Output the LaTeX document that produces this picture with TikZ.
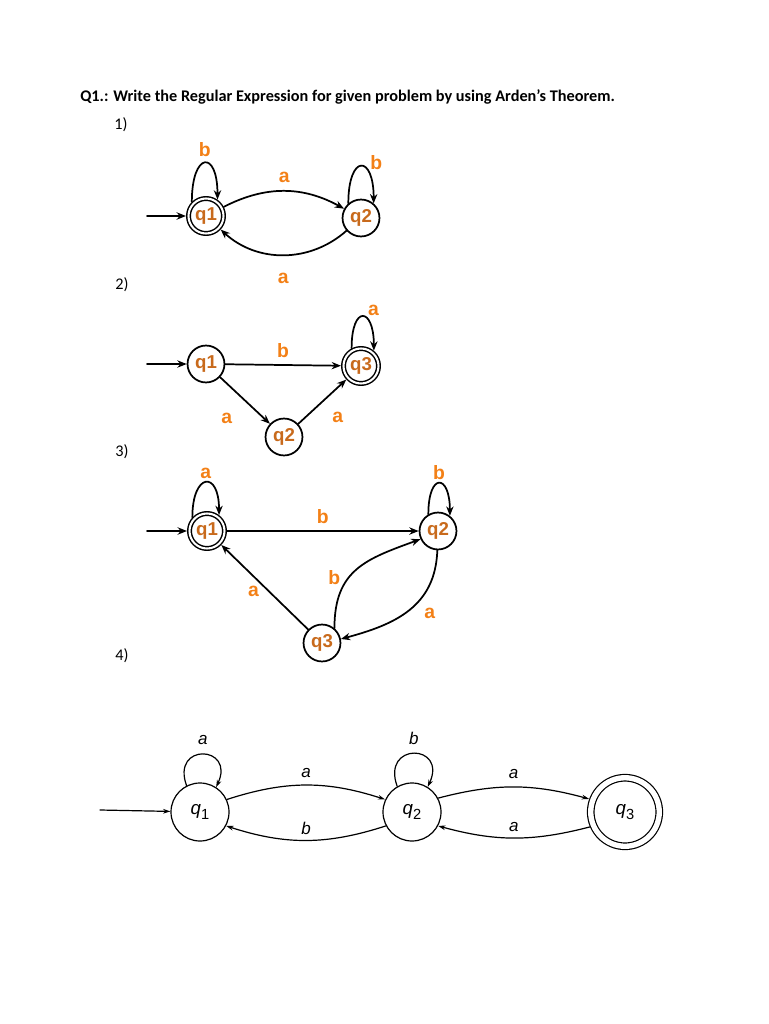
\documentclass[tikz,border=0pt]{standalone}
\usepackage{fontspec}
\setmainfont{Carlito}
\newfontfamily\arialfont{Liberation Sans}
\usetikzlibrary{arrows.meta}
\definecolor{lblorange}{RGB}{243,128,22}
\definecolor{qorange}{RGB}{200,106,28}
\newcommand{\qsub}[1]{\textit{q}\raisebox{-0.5ex}{\fontsize{11}{11}\selectfont #1}}
\begin{document}
\begin{tikzpicture}[x=0.75pt,y=0.75pt,>={Stealth[length=7pt,width=5.5pt]},line join=round,line cap=round,
	st/.style={circle,draw,line width=1.3pt,minimum size=27.7pt,inner sep=0pt,text=qorange,font=\arialfont\bfseries\fontsize{14}{14}\selectfont},
	acc/.style={st,double,line width=1.1pt,double distance=1.55pt,minimum size=26.25pt,outer sep=1.9pt},
	trans/.style={->,line width=1.3pt},
	lbl/.style={text=lblorange,inner sep=1pt,font=\arialfont\bfseries\fontsize{14.5}{14.5}\selectfont},
	st4/.style={circle,draw,line width=0.9pt,minimum size=43.5pt,inner sep=0pt,font=\arialfont\fontsize{14}{14}\selectfont},
	acc4/.style={st4,double,double distance=4pt,minimum size=51.4pt,outer sep=2.9pt},
	trans4/.style={->,>={Stealth[length=5.5pt,width=3.5pt]},line width=0.9pt},
	lbl4/.style={inner sep=1pt,font=\arialfont\itshape\fontsize{12.75}{12.75}\selectfont},
	txt/.style={anchor=west,inner sep=0pt,font=\fontsize{12.2}{14}\selectfont}]
	\useasboundingbox (0,0) rectangle (768,-1024);
	% heading
	\node[txt,font=\bfseries\fontsize{12.2}{14}\selectfont] (title) at (80,-97) {Q1.: Write the Regular Expression for given problem by using Arden’s Theorem.};
	\node[txt] (n1) at (114,-125) {1)};
	\node[txt] (n2) at (115,-285) {2)};
	\node[txt] (n3) at (115,-452) {3)};
	\node[txt] (n4) at (115,-656) {4)};
	% 1)
	\node[acc] (a1) at (206,-216) {q1};
	\node[st] (a2) at (361,-218) {q2};
	\coordinate (a0) at (147,-216);
	\draw[trans] (a0)--(a1);
	\draw[trans] (a1) to[bend left=28] node[lbl,above=5pt] {a} (a2);
	\draw[trans] (a2) to[bend left=42] node[lbl,below=12pt] {a} (a1);
	\draw[trans] (a1.135) to[out=90,in=90,looseness=5] node[lbl,above=3pt] {b} (a1.55);
	\draw[trans] (a2.131) to[out=90,in=90,looseness=5] node[lbl,pos=0.7,above right] {b} (a2.49);
	% 2)
	\node[st] (b1) at (206,-364) {q1};
	\node[acc] (b3) at (361,-366) {q3};
	\node[st] (b2) at (284,-437) {q2};
	\coordinate (b0) at (147,-364);
	\draw[trans] (b0)--(b1);
	\draw[trans] (b1)-- node[lbl,above=4pt] {b} (b3);
	\draw[trans] (b1)-- node[lbl,below left=8pt] {a} (b2);
	\draw[trans] (b2)-- node[lbl,below right=6pt] {a} (b3);
	\draw[trans] (b3.118) to[out=90,in=90,looseness=5] node[lbl,pos=0.6,above right] {a} (b3.50);
	% 3)
	\node[acc] (c1) at (207,-531) {q1};
	\node[st] (c2) at (438,-531) {q2};
	\node[st] (c3) at (322,-643) {q3};
	\coordinate (c0) at (147,-531);
	\draw[trans] (c0)--(c1);
	\draw[trans] (c1)-- node[lbl,above=4pt] {b} (c2);
	\draw[trans] (c3)-- node[lbl,pos=0.45,left=6pt] {a} (c1);
	\draw[trans] (c3.50) to[out=90,in=200,looseness=1.2] node[lbl,pos=0.4,left=5pt] {b} (c2.205);
	\draw[trans] (c2.268) to[out=268,in=15,looseness=1.1] node[lbl,pos=0.4,below right=3pt] {a} (c3.12);
	\draw[trans] (c1.137) to[out=90,in=90,looseness=4.3] node[lbl,above=1pt] {a} (c1.53);
	\draw[trans] (c2.120) to[out=90,in=90,looseness=5] node[lbl,above=1pt] {b} (c2.52);
	% 4)
	\node[st4] (d1) at (200,-812) {\qsub{1}};
	\node[st4] (d2) at (412,-812) {\qsub{2}};
	\node[acc4] (d3) at (625,-812) {\qsub{3}};
	\coordinate (d0) at (100,-810);
	\draw[trans4] (d0)--(d1);
	\draw[trans4] (d1.25) to[bend left=18] node[lbl4,above=4.5pt] {a} (d2.155);
	\draw[trans4] (d2.208) to[bend left=18] node[lbl4,above=3pt] {b} (d1.-28);
	\draw[trans4] (d2.28) to[bend left=15] node[lbl4,above=4.5pt] {a} (d3.160);
	\draw[trans4] (d3.203) to[bend left=15] node[lbl4,above=3pt] {a} (d2.-28);
	\draw[trans4] (d1.117) to[out=110,in=65,looseness=4] node[lbl4,above=6pt] {a} (d1.57);
	\draw[trans4] (d2.120) to[out=110,in=65,looseness=4] node[lbl4,above=5pt] {b} (d2.58);
\end{tikzpicture}
\end{document}
